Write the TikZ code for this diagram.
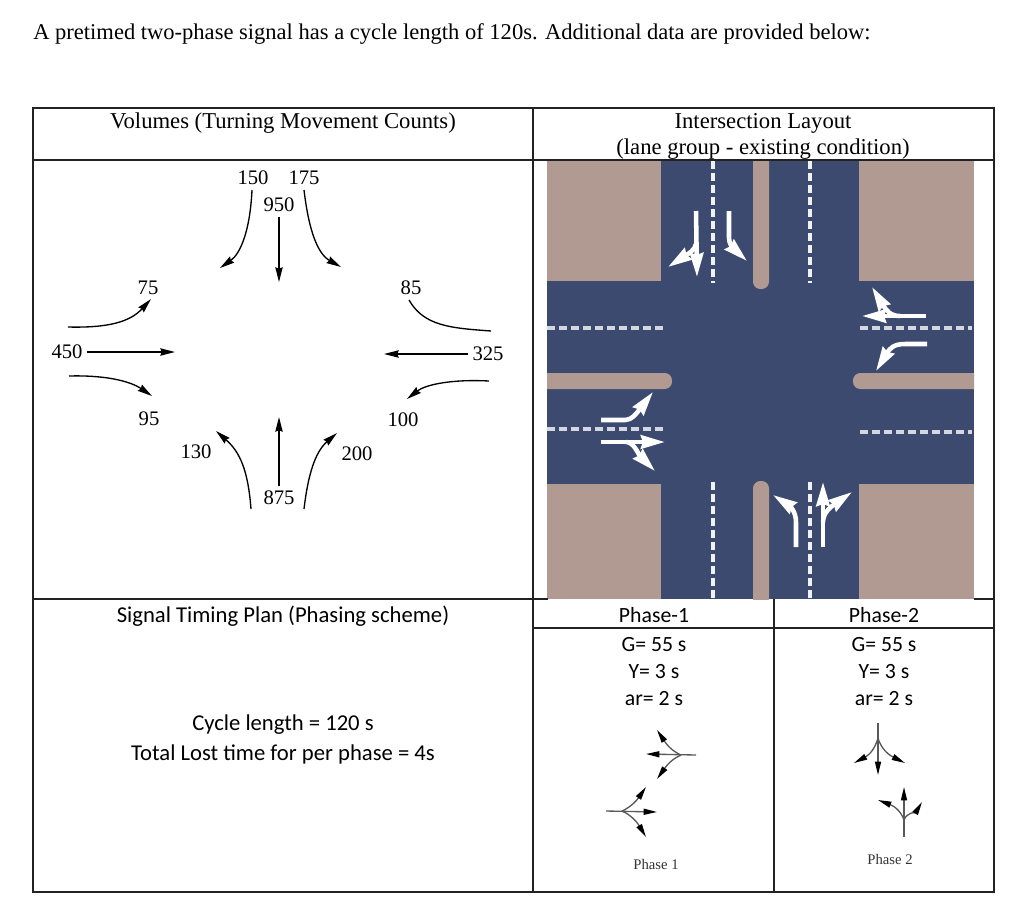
\documentclass[tikz,border=0pt]{standalone}
\usepackage{fontspec}
\setmainfont{Liberation Serif}
\newfontfamily\calib{Carlito}
\usetikzlibrary{arrows.meta}
\definecolor{road}{HTML}{3B4A6E}
\definecolor{land}{HTML}{B09A92}
\definecolor{tline}{HTML}{222222}
\tikzset{
  grid line/.style={draw=tline,line width=1.1pt},
  serif text/.style={inner sep=0pt,font=\fontsize{17}{19}\selectfont,text=black},
  title text/.style={inner sep=0pt,font=\fontsize{16.9}{19}\selectfont,text=black},
  cal text/.style={inner sep=0pt,font=\calib\fontsize{17}{19}\selectfont,text=black},
  cell text/.style={inner sep=0pt,font=\calib\fontsize{16.3}{19}\selectfont,text=black},
  vol label/.style={inner sep=3.5pt,font=\fontsize{15.5}{17}\selectfont,text=black},
  vol arrow/.style={draw=black,line width=1pt,-{Stealth[length=11pt,width=5.5pt,inset=1pt]}},
  vol curve/.style={draw=black,line width=1pt},
  white arrow/.style={draw=white,line width=3.4pt,-{Stealth[length=18pt,width=10pt,inset=1.5pt]}},
  lane dash v/.style={draw=white!92!road,line width=3pt,dash pattern=on 6pt off 3pt},
  lane dash h/.style={draw=white!78!road,line width=2.4pt,dash pattern=on 6pt off 3pt},
  phase arrow/.style={draw=black!65,line width=1pt,-{Stealth[length=10pt,width=4.5pt,inset=0pt,black]}},
  phase caption/.style={inner sep=0pt,font=\fontsize{11}{13}\selectfont,text=black!80},
}
\begin{document}
\begin{tikzpicture}[x=0.75pt,y=-0.75pt]
\useasboundingbox (0,0) rectangle (1024,904);
\fill[white] (0,0) rectangle (1024,904);
% title
\node[title text,anchor=west] (title) at (33,34) {A pretimed two-phase signal has a cycle length of 120s. Additional data are provided below:};
% intersection
\begin{scope}
\clip (547,161) rectangle (974,599);
\fill[road] (547,161) rectangle (974,599);
\fill[land] (547,161) rectangle (661,281);
\fill[land] (859,161) rectangle (974,281);
\fill[land] (547,484) rectangle (661,599);
\fill[land] (859,484) rectangle (974,599);
\fill[land,rounded corners=5.5pt] (753,150) rectangle (769,289);
\fill[land,rounded corners=5.5pt] (753,481) rectangle (769,615);
\fill[land,rounded corners=5.5pt] (530,373) rectangle (672,389);
\fill[land,rounded corners=5.5pt] (853,373) rectangle (990,389);
\end{scope}
\draw[lane dash v] (713,161) -- (713,283);
\draw[lane dash v] (810,161) -- (810,283);
\draw[lane dash v] (713,482) -- (713,599);
\draw[lane dash v] (810,482) -- (810,599);
\draw[lane dash h] (547,328) -- (665,328);
\draw[lane dash h] (860,328) -- (972,328);
\draw[lane dash h] (547,429) -- (665,429);
\draw[lane dash h] (860,432) -- (972,432);
% white lane arrows
\draw[white arrow] (696,211) -- (697,277);
\draw[white arrow] (696,244) .. controls (695,250) and (688,254) .. (668,267);
\draw[white arrow] (729,211) -- (729,238) .. controls (729,244) and (733,248) .. (747,261);
\draw[white arrow] (926,316) -- (862,316);
\draw[white arrow] (900,316) .. controls (890,316) and (886,310) .. (872,287);
\draw[white arrow] (927,344) -- (905,344) .. controls (894,344) and (890,348) .. (876,371);
\draw[white arrow] (601,420) -- (625,420) .. controls (632,420) and (636,414) .. (653,392);
\draw[white arrow] (601,442) -- (665,442);
\draw[white arrow] (626,442) .. controls (634,442) and (638,454) .. (655,471);
\draw[white arrow] (796,547) -- (796,522) .. controls (796,512) and (790,506) .. (773,495);
\draw[white arrow] (823,547) -- (823,482);
\draw[white arrow] (823,522) .. controls (823,512) and (832,506) .. (852,492);
% table
\draw[grid line] (33,108) rectangle (994,892);
\draw[grid line] (33,160) -- (994,160);
\draw[grid line] (33,599) -- (548,599);
\draw[grid line] (974,599) -- (994,599);
\draw[grid line] (533,108) -- (533,892);
\draw[grid line] (533,628) -- (994,628);
\draw[grid line] (774,599) -- (774,892);
% table text
\node[serif text] (hvol) at (283,123.5) {Volumes (Turning Movement Counts)};
\node[serif text] (hlay1) at (763,123.5) {Intersection Layout};
\node[serif text] (hlay2) at (763,149.5) {(lane group - existing condition)};
\node[cal text] (hsig) at (283,616) {Signal Timing Plan (Phasing scheme)};
\node[cal text] (cyc) at (283,725) {Cycle length = 120 s};
\node[cal text] (lost) at (283,754) {Total Lost time for per phase = 4s};
\node[cell text] (ph1) at (654,615.5) {Phase-1};
\node[cell text] (ph2) at (884,615.5) {Phase-2};
\node[cell text] (g1) at (654,644.5) {G= 55 s};
\node[cell text] (y1) at (654,671.5) {Y= 3 s};
\node[cell text] (a1) at (654,698.5) {ar= 2 s};
\node[cell text] (g2) at (884,644.5) {G= 55 s};
\node[cell text] (y2) at (884,671.5) {Y= 3 s};
\node[cell text] (a2) at (884,698.5) {ar= 2 s};
% volumes
\node[vol label] (v150) at (253,178) {150};
\node[vol label] (v175) at (304,178) {175};
\node[vol label] (v950) at (279,205) {950};
\node[vol label] (v75) at (148,288) {75};
\node[vol label] (v450) at (67,352) {450};
\node[vol label] (v95) at (149,419) {95};
\node[vol label] (v130) at (196,452) {130};
\node[vol label] (v875) at (279,498) {875};
\node[vol label] (v200) at (357,454) {200};
\node[vol label] (v100) at (403,420) {100};
\node[vol label] (v325) at (488,354) {325};
\node[vol label] (v85) at (411,288) {85};
\coordinate (t950) at (279,282);
\coordinate (t450) at (175,352);
\coordinate (t325) at (384,354);
\coordinate (t875) at (279,417);
\draw[vol arrow] (v950) -- (t950);
\draw[vol arrow] (v450) -- (t450);
\draw[vol arrow] (v325) -- (t325);
\draw[vol arrow] (v875) -- (t875);
\draw[vol arrow] (252,190) .. controls (250,232) and (240,254) .. (220,268);
\draw[vol arrow] (304,190) .. controls (309,232) and (318,254) .. (341,267);
\draw[vol arrow] (68,327) .. controls (108,328) and (130,322) .. (151,299);
\draw[vol arrow] (69,376) .. controls (105,375) and (130,381) .. (152,396);
\draw[vol curve] (409,300) .. controls (424,326) and (450,328) .. (491,331);
\draw[vol arrow] (489,381) .. controls (450,379) and (425,385) .. (407,399);
\draw[vol arrow] (251,509) .. controls (248,470) and (240,452) .. (216,431);
\draw[vol arrow] (304,509) .. controls (308,475) and (315,452) .. (337,433);
% phase diagrams
\draw[phase arrow] (696,755) -- (646,754);
\draw[phase arrow] (681,755) .. controls (672,751) and (667,745) .. (657,730);
\draw[phase arrow] (681,755) .. controls (672,759) and (667,765) .. (657,779);
\draw[phase arrow] (606,811) -- (657,812);
\draw[phase arrow] (622,811) .. controls (631,807) and (637,800) .. (646,787);
\draw[phase arrow] (622,811) .. controls (631,815) and (637,822) .. (646,837);
\draw[phase arrow] (878,723) -- (878,775);
\draw[phase arrow] (878,738) .. controls (875,749) and (869,755) .. (854,763);
\draw[phase arrow] (878,738) .. controls (881,749) and (889,755) .. (905,763);
\draw[phase arrow] (904,837) -- (904,787);
\draw[phase arrow] (904,820) .. controls (901,811) and (894,806) .. (878,800);
\draw[phase arrow] (904,820) .. controls (907,812) and (916,812) .. (922,802);
\node[phase caption] (cap1) at (656,864) {Phase 1};
\node[phase caption] (cap2) at (890,859) {Phase 2};
\end{tikzpicture}
\end{document}
